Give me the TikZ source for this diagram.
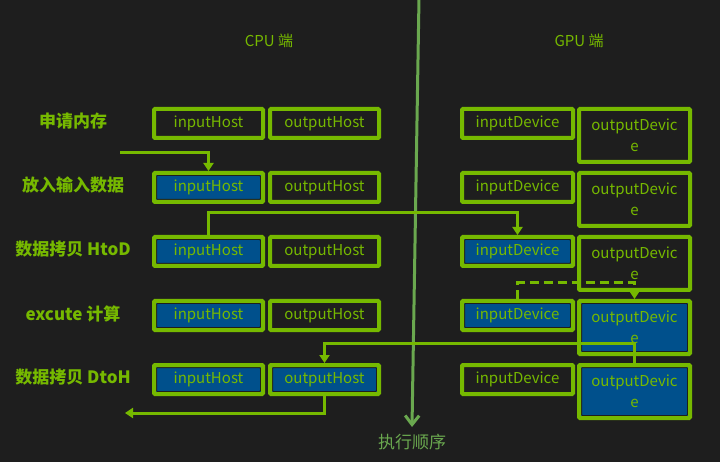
\documentclass[tikz,border=0pt]{standalone}
\usepackage{fontspec}
\setmainfont{Noto Sans CJK SC}
\usetikzlibrary{arrows.meta}
\definecolor{nvgreen}{HTML}{76B900}
\definecolor{ordergreen}{HTML}{6AA84F}
\definecolor{bgdark}{HTML}{1E1E1E}
\definecolor{memblue}{HTML}{00508C}
\tikzset{
  buf/.style={draw=nvgreen, line width=4pt, rounded corners=1pt, fill=bgdark,
    text=nvgreen, anchor=north, minimum width=109pt, minimum height=29pt,
    inner sep=0pt, align=center, font=\fontsize{15}{21}\selectfont,
    path picture={\draw[bgdark,line width=1pt]
      ([shift={(2.5pt,-2.5pt)}]path picture bounding box.north west) rectangle
      ([shift={(-2.5pt,2.5pt)}]path picture bounding box.south east);}},
  dev/.style={buf, minimum width=111pt},
  devout/.style={dev, minimum height=53pt},
  full/.style={fill=memblue},
  rowlabel/.style={text=nvgreen, font=\bfseries\fontsize{17}{20}\selectfont},
  side/.style={text=nvgreen, font=\fontsize{15}{18}\selectfont},
  flow/.style={nvgreen, line width=3pt, -{Triangle[width=10pt,length=8pt]}},
}
\begin{document}
\begin{tikzpicture}[x=1pt,y=-1pt]
    \useasboundingbox[fill=bgdark] (0,0) rectangle (720,462);
    % time line
    \coordinate (t0) at (419,-2);
    \coordinate (t1) at (412,427);
    \draw[ordergreen, line width=3pt, -{Straight Barb[width=14pt,length=9pt]}] (t0) -- (t1);
    \node[text=ordergreen, font=\fontsize{17}{20}\selectfont] (order) at (412,442) {执行顺序};
    \node[side] (cpu) at (269,41) {CPU 端};
    \node[side] (gpu) at (579,41) {GPU 端};
    % steps
    \node[rowlabel] (l1) at (73,121.5) {申请内存};
    \node[rowlabel] (l2) at (73,185.5) {放入输入数据};
    \node[rowlabel] (l3) at (73,249.5) {数据拷贝 HtoD};
    \node[rowlabel] (l4) at (73,313.5) {excute 计算};
    \node[rowlabel] (l5) at (73,377.5) {数据拷贝 DtoH};
    % buffers
    \node[buf] (ih1) at (208.5,107) {inputHost};
    \node[buf] (oh1) at (324.5,107) {outputHost};
    \node[dev] (id1) at (517.5,107) {inputDevice};
    \node[devout] (od1) at (634.5,107) {outputDevic\\e};
    \node[buf,full] (ih2) at (208.5,171) {inputHost};
    \node[buf] (oh2) at (324.5,171) {outputHost};
    \node[dev] (id2) at (517.5,171) {inputDevice};
    \node[devout] (od2) at (634.5,171) {outputDevic\\e};
    \node[buf,full] (ih3) at (208.5,235) {inputHost};
    \node[buf] (oh3) at (324.5,235) {outputHost};
    \node[dev,full] (id3) at (517.5,235) {inputDevice};
    \node[devout] (od3) at (634.5,235) {outputDevic\\e};
    \node[buf,full] (ih4) at (208.5,299) {inputHost};
    \node[buf] (oh4) at (324.5,299) {outputHost};
    \node[dev,full] (id4) at (517.5,299) {inputDevice};
    \node[devout,full] (od4) at (634.5,299) {outputDevic\\e};
    \node[buf,full] (ih5) at (208.5,363) {inputHost};
    \node[buf,full] (oh5) at (324.5,363) {outputHost};
    \node[dev] (id5) at (517.5,363) {inputDevice};
    \node[devout,full] (od5) at (634.5,363) {outputDevic\\e};
    % data flow
    \coordinate (datain) at (120,153);
    \coordinate (dataout) at (125,413);
    \draw[flow] (datain) -| (ih2.north);
    \draw[flow] (ih3.north) -- ++(0,-22) -| (id3.north);
    \draw[flow, dash pattern=on 9pt off 5pt] (id4.north) -- ++(0,-16) -| (od4.north);
    \draw[flow] (od5.north) -- ++(0,-20) -| (oh5.north);
    \draw[flow] (oh5.south) |- (dataout);
\end{tikzpicture}
\end{document}
